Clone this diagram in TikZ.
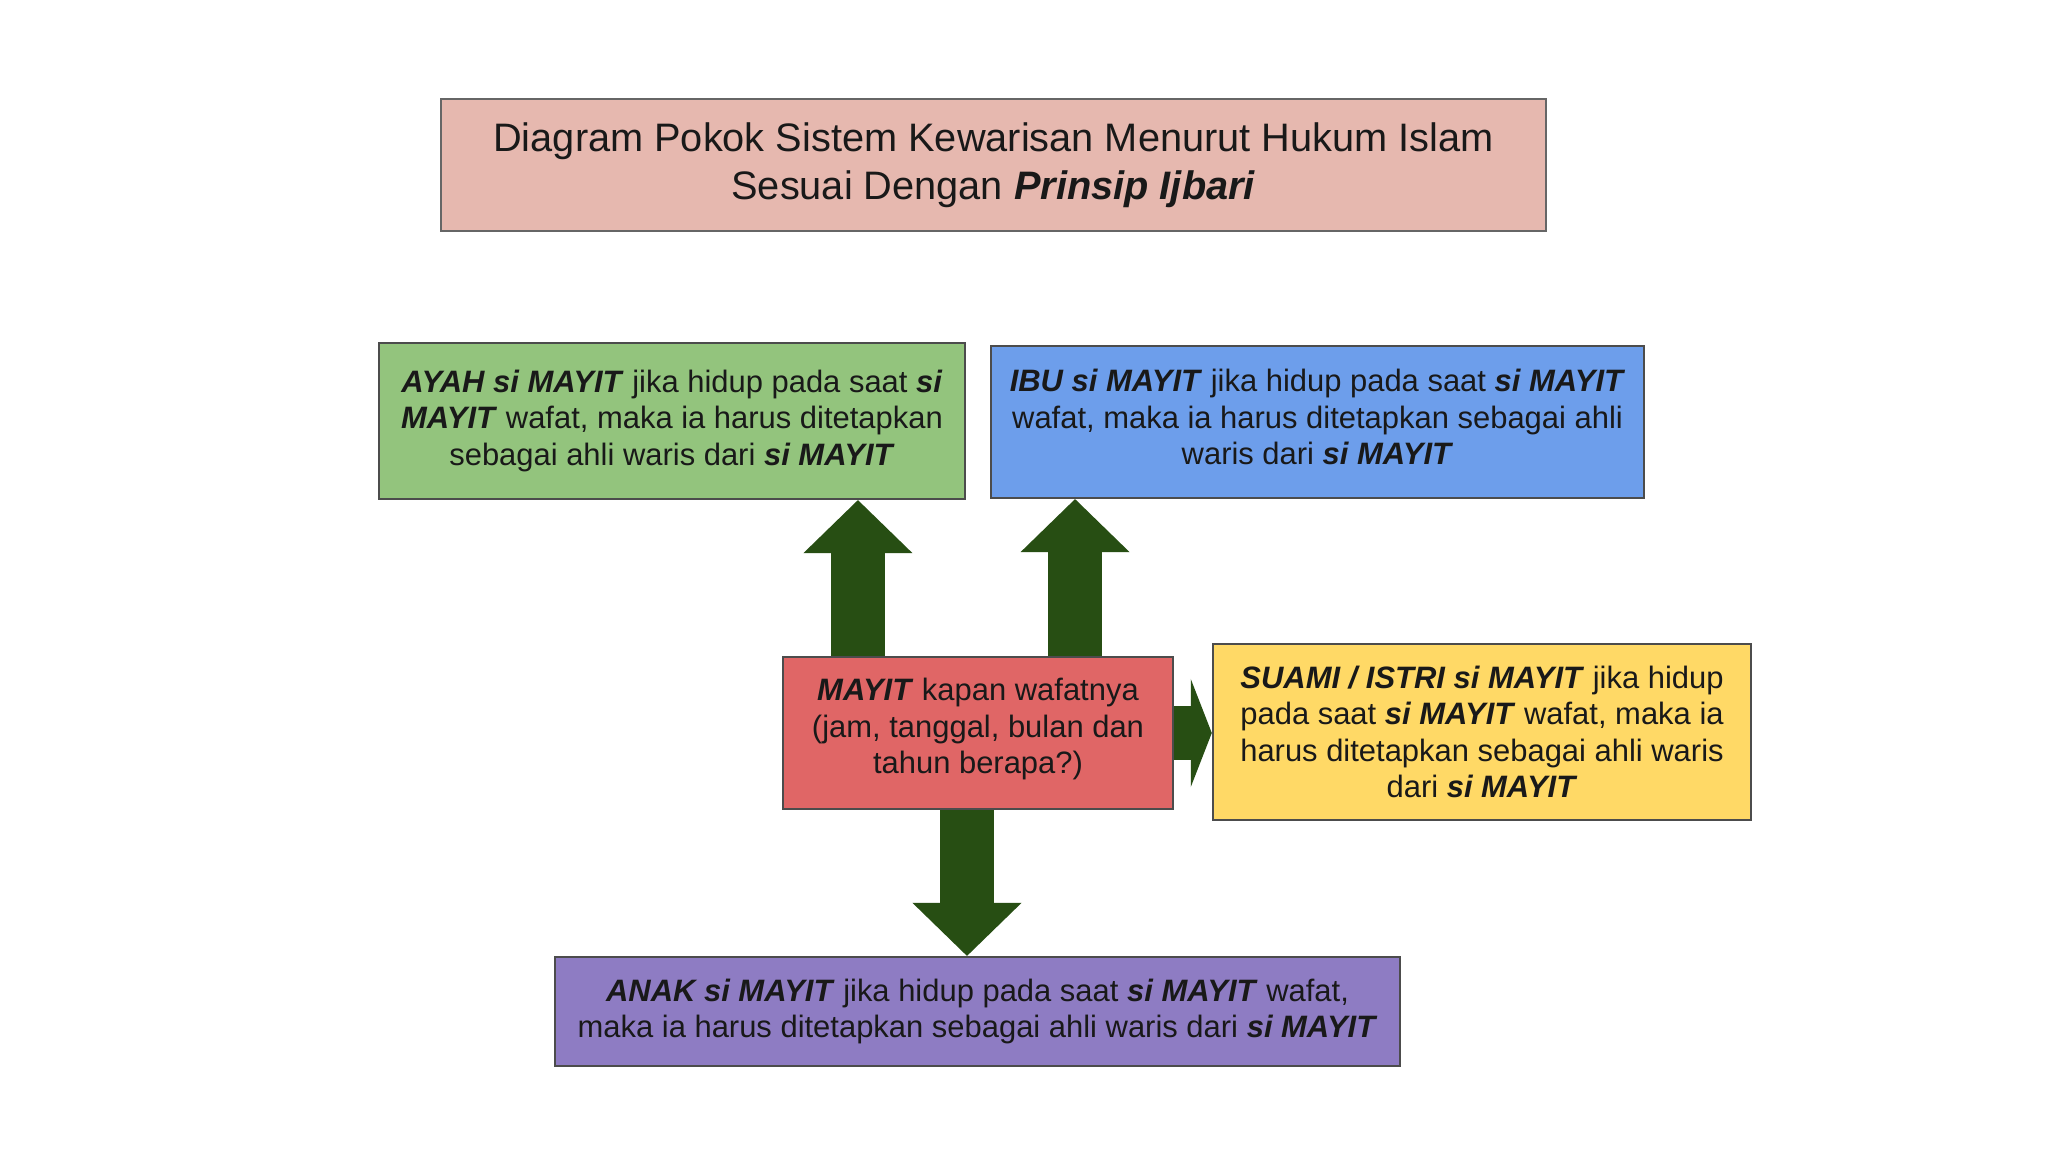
\documentclass[tikz,border=0pt]{standalone}
\usepackage{fontspec}
\setmainfont{Liberation Sans}
\usepackage{tikz}
\usetikzlibrary{calc,arrows.meta,positioning}
\usepackage{xcolor}

\definecolor{judulpink}{HTML}{E6B8AF}
\definecolor{kotakhijau}{HTML}{93C47D}
\definecolor{kotakbiru}{HTML}{6D9EEB}
\definecolor{kotakmerah}{HTML}{E06666}
\definecolor{kotakkuning}{HTML}{FFD966}
\definecolor{kotakungu}{HTML}{8E7CC3}
\definecolor{panahhijau}{HTML}{274E13}

\newcommand{\tebal}[1]{\textbf{\textit{#1}}}

\tikzset{
    kotak/.style={draw=black!70, line width=0.6pt, inner sep=0pt, align=center,
        text=black!90, font=\fontsize{8.8}{10.4}\selectfont},
    panah/.style={draw=panahhijau, line width=0.54cm,
        -{Triangle[length=0.53cm, width=1.09cm, line width=0pt]}}
}

\begin{document}
\begin{tikzpicture}[x=0.01cm, y=-0.01cm]
        \useasboundingbox[fill=white] (0, 0) rectangle (2048, 1152);

        \node[kotak, fill=judulpink, draw=black!60, minimum width=11.05cm, minimum height=1.32cm,
            font=\fontsize{11.3}{13.6}\selectfont] (judul) at (993.5, 165)
            {Diagram Pokok Sistem Kewarisan Menurut Hukum Islam\\ Sesuai Dengan \tebal{Prinsip Ijbari}};

        \node[kotak, fill=kotakhijau, minimum width=5.86cm, minimum height=1.56cm] (ayah) at (672, 421)
            {\tebal{AYAH si MAYIT} jika hidup pada saat \tebal{si}\\ \tebal{MAYIT} wafat, maka ia harus ditetapkan\\ sebagai ahli waris dari \tebal{si MAYIT}};

        \node[kotak, fill=kotakbiru, minimum width=6.53cm, minimum height=1.52cm, text depth=2.8pt] (ibu) at (1317.5, 422)
            {\tebal{IBU si MAYIT} jika hidup pada saat \tebal{si MAYIT}\\ wafat, maka ia harus ditetapkan sebagai ahli\\ waris dari \tebal{si MAYIT}};

        \node[kotak, fill=kotakmerah, minimum width=3.9cm, minimum height=1.52cm, text depth=4.1pt] (mayit) at (978, 733)
            {\tebal{MAYIT} kapan wafatnya\\ (jam, tanggal, bulan dan\\ tahun berapa?)};

        \node[kotak, fill=kotakkuning, minimum width=5.38cm, minimum height=1.76cm] (suami) at (1482, 732)
            {\tebal{SUAMI / ISTRI si MAYIT} jika hidup\\ pada saat \tebal{si MAYIT} wafat, maka ia\\ harus ditetapkan sebagai ahli waris\\ dari \tebal{si MAYIT}};

        \node[kotak, fill=kotakungu, minimum width=8.45cm, minimum height=1.09cm] (anak) at (977.5, 1011.5)
            {\tebal{ANAK si MAYIT} jika hidup pada saat \tebal{si MAYIT} wafat,\\ maka ia harus ditetapkan sebagai ahli waris dari \tebal{si MAYIT}};

        % panah dari MAYIT ke ahli waris
        \draw[panah] ([xshift=-1.2cm]mayit.north) -- ([xshift=-1.2cm]mayit.north |- ayah.south);
        \draw[panah] ([xshift=0.97cm]mayit.north) -- ([xshift=0.97cm]mayit.north |- ibu.south);
        \draw[panah] ([xshift=-0.11cm]mayit.south) -- ([xshift=-0.11cm]mayit.south |- anak.north);
        \draw[panah, -{Triangle[length=0.21cm, width=1.08cm, line width=0pt]}] (mayit.east) -- (mayit.east -| suami.west);
    \end{tikzpicture}
\end{document}
